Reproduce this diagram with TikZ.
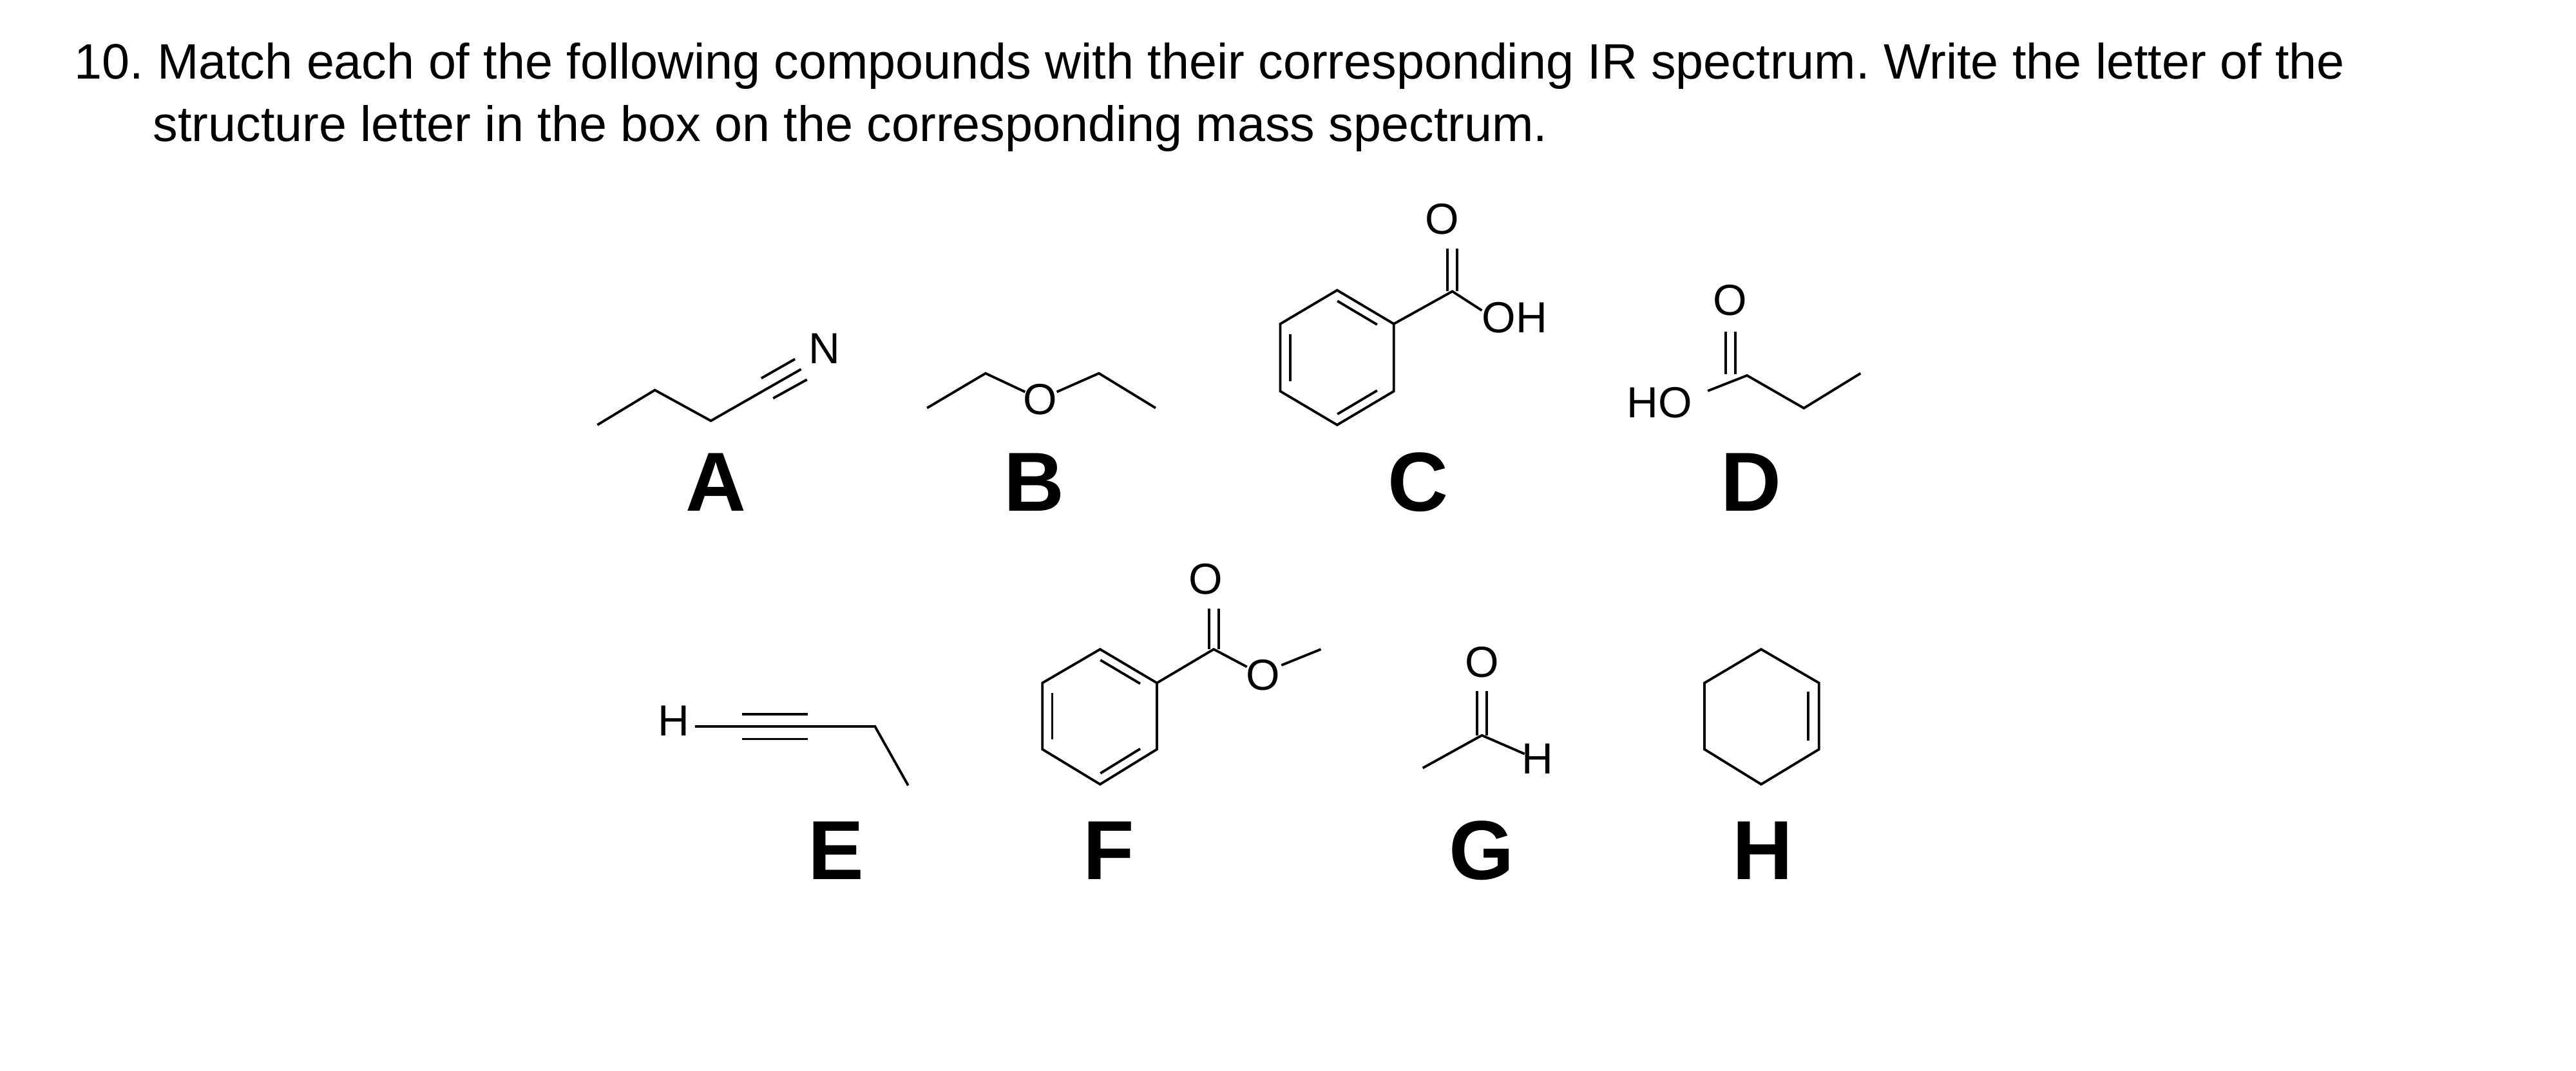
\documentclass[tikz,border=0pt]{standalone}
\usepackage{fontspec}
\setmainfont{Liberation Sans}
\usetikzlibrary{calc}
\begin{document}
\frenchspacing
\begin{tikzpicture}[x=1pt,y=-1pt,
  bond/.style={line width=1.5pt,line cap=butt,line join=miter},
  atom/.style={inner sep=0pt,font=\fontsize{26.5}{28}\selectfont},
  lbl/.style={inner sep=0pt,font=\fontsize{51}{52}\selectfont\bfseries},
  title/.style={inner sep=0pt,anchor=base west,font=\fontsize{30.3}{32}\selectfont}]
\useasboundingbox (0,0) rectangle (1568,652);
\node[title] (t1) at (45,48) {10. Match each of the following compounds with their corresponding IR spectrum. Write the letter of the};
\node[title] (t2) at (93,86) {structure letter in the box on the corresponding mass spectrum.};
% A
\coordinate (a1) at (363.6,258.7); \coordinate (a2) at (398.6,237.5);
\coordinate (a3) at (432.7,256.2); \coordinate (a5) at (487.6,224.8);
\node[atom] (aN) at (502,212.4) {N};
\draw[bond] (a1)--(a2)--(a3)--(a5);
\draw[bond] (463.4,230.3)--(483.9,218.6);
\draw[bond] (470.6,242.5)--(491.2,231.1);
\node[lbl] (lA) at (435.8,293.5) {A};
% B
\coordinate (b1) at (564.3,248.4); \coordinate (b2) at (599.9,227.3);
\coordinate (b4) at (668.9,227.3); \coordinate (b5) at (703.4,248.4);
\node[atom] (bO) at (633.3,243) {O};
\draw[bond] (b1)--(b2)--($(b2)!0.72!(bO.center)$);
\draw[bond] ($(b4)!0.72!(bO.center)$)--(b4)--(b5);
\node[lbl] (lB) at (629.6,293.5) {B};
% C
\coordinate (c1) at (813.9,176.7); \coordinate (c2) at (848.4,197.2);
\coordinate (c3) at (848.4,238.2); \coordinate (c4) at (813.9,258.7);
\coordinate (c5) at (779.3,238.2); \coordinate (c6) at (779.3,197.2);
\coordinate (cc) at (884,177.4);
\node[atom] (cO) at (878,133.5) {O};
\node[atom] (cOH) at (922,193.5) {OH};
\draw[bond] (c1)--(c2)--(c3)--(c4)--(c5)--(c6)--cycle;
\draw[bond] ($(c1)!0.15!(c2)+(-5,3.5)$)--($(c1)!0.85!(c2)+(-5,3.5)$);
\draw[bond] ($(c3)!0.15!(c4)+(-5,-3.5)$)--($(c3)!0.85!(c4)+(-5,-3.5)$);
\draw[bond] ($(c5)!0.15!(c6)+(6,0)$)--($(c5)!0.85!(c6)+(6,0)$);
\draw[bond] (c2)--(cc)--(902,189);
\draw[bond] (cc)++(-3,0)--(881,151.5);
\draw[bond] (cc)++(3,0)--(887,151.5);
\node[lbl] (lC) at (863.3,293.5) {C};
% D
\node[atom] (dHO) at (1010,245) {HO};
\coordinate (d1) at (1063.4,228.6); \coordinate (d2) at (1098,248.5);
\coordinate (d3) at (1132.5,227.3);
\node[atom] (dO) at (1053,183) {O};
\draw[bond] (1039.5,238)--(d1)--(d2)--(d3);
\draw[bond] (1050.4,228)--(1050.4,202);
\draw[bond] (1056.4,228)--(1056.4,202);
\node[lbl] (lD) at (1066,293.5) {D};
% E
\node[atom] (eH) at (410,439) {H};
\coordinate (e1) at (423,442.3); \coordinate (e2) at (532.6,442.3);
\coordinate (e3) at (552.8,478.2);
\draw[bond] (e1)--(e2)--(e3);
\draw[bond] (451.8,434.7)--(491.7,434.7);
\draw[bond] (451.8,449.9)--(491.7,449.9);
\node[lbl] (lE) at (509,518) {E};
% F
\coordinate (f1) at (669.6,395.3); \coordinate (f2) at (704.2,415.8);
\coordinate (f3) at (704.2,456.2); \coordinate (f4) at (669.6,477.5);
\coordinate (f5) at (634.5,456.2); \coordinate (f6) at (634.5,415.8);
\coordinate (fc) at (738.8,395.3);
\node[atom] (fO) at (734,352.5) {O};
\node[atom] (fO2) at (769,411) {O};
\draw[bond] (f1)--(f2)--(f3)--(f4)--(f5)--(f6)--cycle;
\draw[bond] ($(f1)!0.15!(f2)+(-5,3.5)$)--($(f1)!0.85!(f2)+(-5,3.5)$);
\draw[bond] ($(f3)!0.15!(f4)+(-5,-3.5)$)--($(f3)!0.85!(f4)+(-5,-3.5)$);
\draw[bond] ($(f5)!0.15!(f6)+(6,0)$)--($(f5)!0.85!(f6)+(6,0)$);
\draw[bond] (f2)--(fc)--(759,406);
\draw[bond] (780,405)--(804,395.3);
\draw[bond] (fc)++(-3,0)--(735.8,370.5);
\draw[bond] (fc)++(3,0)--(741.8,370.5);
\node[lbl] (lF) at (675,518) {F};
% G
\node[atom] (gO) at (902,403) {O};
\node[atom] (gH) at (936,462) {H};
\coordinate (g1) at (902,447.7); \coordinate (g2) at (866,467.6);
\draw[bond] (g2)--(g1)--(928,459);
\draw[bond] (899,447.7)--(899,420.8);
\draw[bond] (905,447.7)--(905,420.8);
\node[lbl] (lG) at (902,518) {G};
% H
\coordinate (h1) at (1072,395.3); \coordinate (h2) at (1107.2,415.8);
\coordinate (h3) at (1107.2,456.2); \coordinate (h4) at (1072,477.5);
\coordinate (h5) at (1037.5,456.2); \coordinate (h6) at (1037.5,415.8);
\draw[bond] (h1)--(h2)--(h3)--(h4)--(h5)--(h6)--cycle;
\draw[bond] (1100.5,421)--(1100.5,451);
\node[lbl] (lH) at (1073,518) {H};
\end{tikzpicture}
\end{document}
